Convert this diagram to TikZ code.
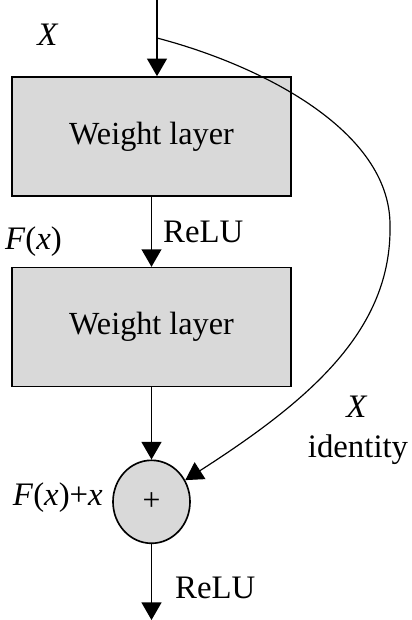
\documentclass[tikz,border=0pt]{standalone}
\usepackage{fontspec}
\setmainfont{Liberation Serif}
\usetikzlibrary{positioning,arrows.meta}
\usetikzlibrary{shapes.geometric}

\begin{document}
\begin{tikzpicture}[
x=0.03cm,y=-0.03cm,
layerbox/.style={rectangle, draw=black, fill=black!15, line width=1.4pt, minimum width=8.37cm, minimum height=3.57cm, font=\fontsize{27.5}{32}\selectfont},
sumnode/.style={ellipse, draw=black, fill=black!15, line width=1.4pt, minimum width=2.31cm, minimum height=2.49cm, inner sep=0pt, font=\fontsize{27}{32}\selectfont},
lbl/.style={inner sep=0pt, font=\fontsize{28}{32}\selectfont},
flow/.style={line width=1.3pt, -{Triangle[width=17pt,length=15pt]}}
]
\useasboundingbox (0,0) rectangle (411,620);
%Nodes
\node[layerbox]   (layer1)   at (151.5,136.5)            {Weight layer};
\node[layerbox]   (layer2)   [below=2.1cm of layer1]     {Weight layer};
\node[sumnode]    (sum)      [below=2.16cm of layer2]    {+};
\coordinate       (input)    at (157,0);
\coordinate       (split)    at (157,38);
\coordinate       (bend)     at (390,225);
\coordinate       (output)   at (151.5,620);
%Labels
\node[lbl]              (xin)    at (48,35)   {\textit{X}};
\node[lbl,anchor=east]  (fx)     at (62,242)  {\textit{F}(\textit{x})};
\node[lbl,anchor=west]  (relu1)  at (163,232) {ReLU};
\node[lbl]              (xid)    at (357,407) {\textit{X}};
\node[lbl]              (ident)  at (358,450) {identity};
\node[lbl,anchor=east]  (fxx)    at (103,498) {\textit{F}(\textit{x})+\textit{x}};
\node[lbl,anchor=west]  (relu2)  at (175,588) {ReLU};
%Lines
\draw[flow] (input) -- (input |- layer1.north);
\draw[flow] (layer1) -- (layer2);
\draw[flow] (layer2) -- (sum);
\draw[flow] (sum) -- (output);
\draw[flow,line width=1pt] (split) .. controls (260,65) and (390,130) .. (bend)
  .. controls (392,330) and (310,400) .. (sum);
\end{tikzpicture}
\end{document}
